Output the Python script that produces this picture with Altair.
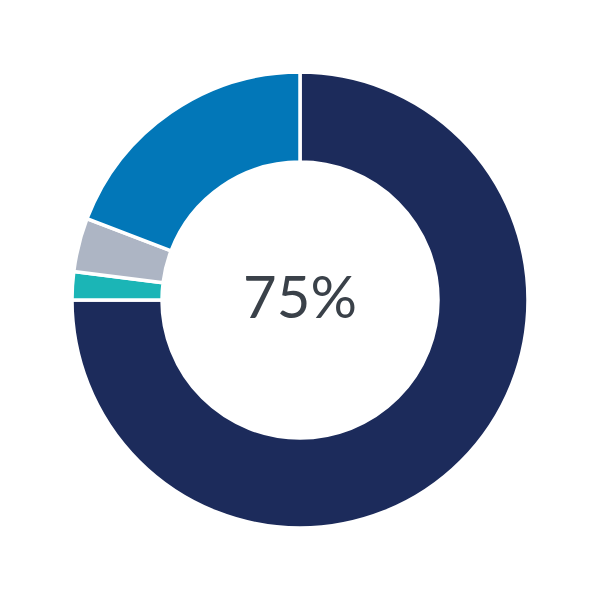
import altair as alt
import pandas as pd

categories = ["A", "B", "C", "D"]
values = [75, 2, 3.8, 19.2]
colors = ["#1c2b5b", "#1bb5b6", "#adb5c4", "#0277b8"]
center_label = "75%"

df = pd.DataFrame({"cat": categories, "value": values, "order": list(range(len(values)))})

arcs = alt.Chart(df).mark_arc(innerRadius=138, outerRadius=228, stroke="white", strokeWidth=3.5).encode(
    theta=alt.Theta("value:Q", stack=True),
    order=alt.Order("order:Q"),
    color=alt.Color("cat:N", scale=alt.Scale(domain=categories, range=colors), legend=None),
)

label = alt.Chart(pd.DataFrame({"t": [center_label]})).mark_text(
    font="Lato", fontSize=58, fontWeight="normal", color="#3a4149", baseline="alphabetic", align="center"
).encode(text="t:N", x=alt.value(292), y=alt.value(310))

chart = (arcs + label).properties(width=584, height=584, padding=0).configure_view(stroke=None)
chart.save("out.html", embed_options={"renderer": "svg", "actions": False})
